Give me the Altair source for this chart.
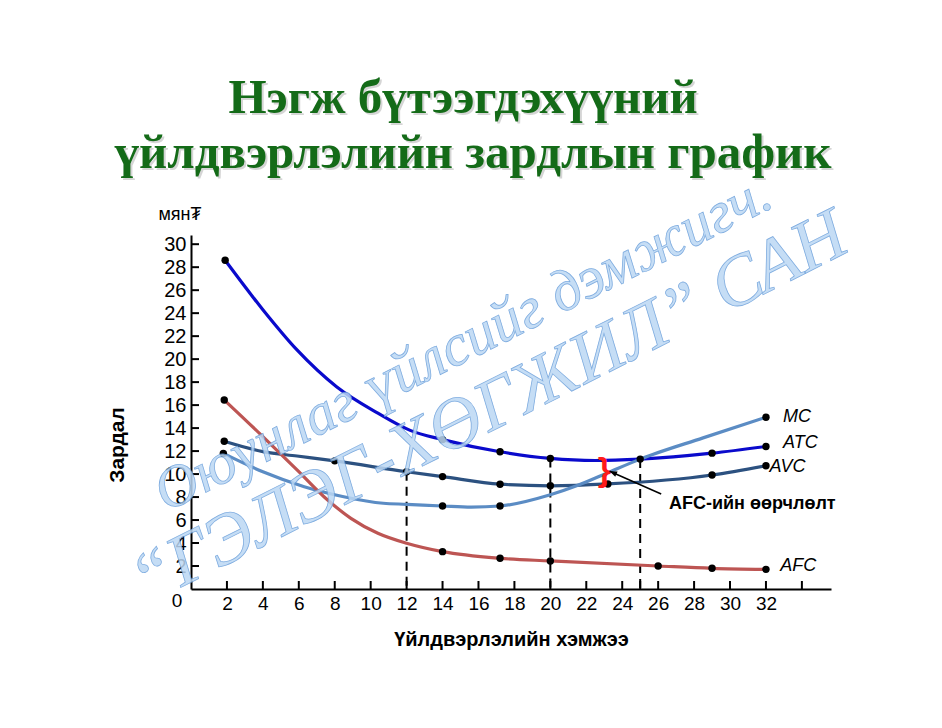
import altair as alt
import pandas as pd

# ---------------- data ----------------
title_lines = ["Нэгж бүтээгдэхүүний", "үйлдвэрлэлийн зардлын график"]
watermark_lines = ["Оюунлаг үйлсийг дэмжигч.", "“ГЭЛЭГ-ХӨГЖИЛ” САН"]
y_unit = "мян₮"
y_title = "Зардал"
x_title = "Үйлдвэрлэлийн хэмжээ"
afc_note = "AFC-ийн өөрчлөлт"

x_tick_labels = [2, 4, 6, 8, 10, 12, 14, 16, 18, 20, 22, 24, 26, 28, 30, 32]
x_tick_marks = [2, 4, 6, 8, 10, 12, 14, 16, 18, 20, 22, 24, 25, 26, 28, 30, 32, 34]
y_ticks = [2, 4, 6, 8, 10, 12, 14, 16, 18, 20, 22, 24, 26, 28, 30]

series_names = ["ATC", "AVC", "MC", "AFC"]
series_colors = ["#0a0acc", "#2c5180", "#5b8cc4", "#bd5553"]

atc_x = [1.9, 4.0, 5.9, 8.1, 10.4, 12.2, 14.0, 17.2, 20.0, 22.5, 25.0, 29.0, 32.0]
atc_y = [28.6, 24.3, 20.8, 17.6, 15.3, 13.8, 13.0, 11.94, 11.36, 11.18, 11.3, 11.82, 12.4]
atc_dot = [1, 0, 0, 0, 0, 0, 1, 1, 1, 0, 1, 1, 1]

avc_x = [1.85, 4.0, 5.9, 8.0, 12.0, 14.0, 17.2, 20.0, 23.2, 29.0, 32.0]
avc_y = [12.85, 11.95, 11.57, 11.15, 10.2, 9.78, 9.12, 8.98, 9.14, 9.92, 10.73]
avc_dot = [1, 0, 0, 1, 1, 1, 1, 1, 1, 1, 1]

mc_x = [1.8, 4.0, 6.3, 8.5, 10.7, 12.0, 14.0, 15.6, 17.2, 20.0, 21.5, 23.1, 25.0, 28.5, 32.0]
mc_y = [11.8, 10.2, 8.9, 8.03, 7.46, 7.37, 7.22, 7.12, 7.22, 8.2, 9.0, 10.05, 11.3, 13.15, 14.94]
mc_dot = [1, 0, 0, 0, 0, 0, 1, 0, 1, 0, 0, 0, 0, 0, 1]

afc_x = [1.85, 4.0, 5.9, 7.4, 8.9, 10.4, 12.0, 14.0, 17.2, 20.0, 26.0, 29.0, 32.0]
afc_y = [16.45, 13.26, 10.36, 8.03, 6.15, 4.85, 3.98, 3.25, 2.67, 2.44, 2.0, 1.8, 1.71]
afc_dot = [1, 0, 0, 0, 0, 0, 0, 1, 1, 1, 1, 1, 1]

label_names = ["MC", "ATC", "AVC", "AFC"]
label_x = [32.95, 32.95, 32.2, 32.8]
label_y = [14.97, 12.7, 10.6, 2.0]

dash_x = [12, 20, 25]
dash_top = [10.2, 11.36, 11.3]

bracket_x = [23.0]
bracket_y = [10.27]
arrow_tail_x = [26.17]
arrow_tail_y = [8.27]
arrow_tip_x = [23.3]
arrow_tip_y = [10.25]

# ---------------- tables ----------------
rows = []
for name, xs, ys, ds in [("ATC", atc_x, atc_y, atc_dot), ("AVC", avc_x, avc_y, avc_dot),
                         ("MC", mc_x, mc_y, mc_dot), ("AFC", afc_x, afc_y, afc_dot)]:
    for i, (a, b, d) in enumerate(zip(xs, ys, ds)):
        rows.append({"series": name, "x": a, "y": b, "dot": d, "order": i})
curves = pd.DataFrame(rows)
dots = curves[curves["dot"] == 1]

labels_df = pd.DataFrame({"name": label_names, "x": label_x, "y": label_y})
dash_df = pd.DataFrame({"x": dash_x, "top": dash_top})
xt_df = pd.DataFrame({"t": x_tick_marks})
yt_df = pd.DataFrame({"t": y_ticks})
bracket_df = pd.DataFrame({"x": bracket_x, "y": bracket_y, "t": ["}"]})
arrow_df = pd.DataFrame({"x": arrow_tail_x, "y": arrow_tail_y, "x2": arrow_tip_x, "y2": arrow_tip_y})
tip_df = pd.DataFrame({"x": arrow_tip_x, "y": arrow_tip_y})

W, H = 640, 354
xscale = alt.Scale(domain=[0, 35.62], nice=False, zero=False)
yscale = alt.Scale(domain=[0, 30.8], nice=False, zero=False)

SANS = "Liberation Sans"
SERIF = "Liberation Serif"

x_axis = alt.Axis(values=x_tick_labels, ticks=False, grid=False, domainColor="black",
                  domainWidth=2, labelFont=SANS, labelFontSize=19, labelColor="black",
                  labelPadding=5, labelFlush=False, labelOverlap=False, title=x_title,
                  titleFont=SANS, titleFontSize=20, titleFontWeight="bold",
                  titleColor="black", titlePadding=16)
y_axis = alt.Axis(values=y_ticks, ticks=False, grid=False, domainColor="black",
                  domainWidth=2, labelFont=SANS, labelFontSize=20, labelColor="black",
                  labelPadding=5, labelFlush=False, labelOverlap=False, title=None)

lines = alt.Chart(curves).mark_line(interpolate="monotone", strokeWidth=3.2).encode(
    x=alt.X("x:Q", scale=xscale, axis=x_axis),
    y=alt.Y("y:Q", scale=yscale, axis=y_axis),
    color=alt.Color("series:N", scale=alt.Scale(domain=series_names, range=series_colors), legend=None),
    order="order:Q",
)

dot_layer = alt.Chart(dots).mark_circle(size=55, color="black", opacity=1).encode(
    x=alt.X("x:Q", scale=xscale, axis=x_axis), y=alt.Y("y:Q", scale=yscale, axis=y_axis))

dash_layer = alt.Chart(dash_df).mark_rule(color="black", strokeWidth=2, strokeDash=[9, 6]).encode(
    x=alt.X("x:Q", scale=xscale, axis=x_axis), y=alt.Y("top:Q", scale=yscale, axis=y_axis),
    y2=alt.datum(0))

xticks = alt.Chart(xt_df).mark_rule(color="black", strokeWidth=2).encode(
    x=alt.X("t:Q", scale=xscale, axis=x_axis), y=alt.value(H), y2=alt.value(H - 8))
yticks = alt.Chart(yt_df).mark_rule(color="black", strokeWidth=2).encode(
    y=alt.Y("t:Q", scale=yscale, axis=y_axis), x=alt.value(0), x2=alt.value(8))

curve_labels = alt.Chart(labels_df).mark_text(
    font=SANS, fontSize=18, fontStyle="italic", align="left", baseline="middle", color="black"
).encode(x=alt.X("x:Q", scale=xscale, axis=x_axis), y=alt.Y("y:Q", scale=yscale, axis=y_axis),
         text="name:N")

bracket = alt.Chart(bracket_df).mark_text(
    font=SANS, fontSize=34, color="#ff1a1a", align="center", baseline="middle", fontWeight="bold"
).encode(x=alt.X("x:Q", scale=xscale, axis=x_axis), y=alt.Y("y:Q", scale=yscale, axis=y_axis),
         text="t:N")

arrow = alt.Chart(arrow_df).mark_rule(color="black", strokeWidth=1.5).encode(
    x=alt.X("x:Q", scale=xscale, axis=x_axis), y=alt.Y("y:Q", scale=yscale, axis=y_axis),
    x2="x2:Q", y2="y2:Q")
arrow_head = alt.Chart(tip_df).mark_point(
    shape="M0,0 L-0.4,1 L0.4,1 Z", size=220, filled=True, color="black", opacity=1, angle=293.5
).encode(x=alt.X("x:Q", scale=xscale, axis=x_axis), y=alt.Y("y:Q", scale=yscale, axis=y_axis))


def text_at(t, px, py, **kw):
    return alt.Chart(pd.DataFrame({"t": [t]})).mark_text(**kw).encode(
        x=alt.value(px), y=alt.value(py), text="t:N")


note = text_at(afc_note, 478, 269, font=SANS, fontSize=18, fontWeight="bold", align="left",
               baseline="middle", color="black")
unit = text_at(y_unit, -11, -20, font=SANS, fontSize=18, align="center", baseline="middle", color="black")
zero = text_at("0", -14, 366, font=SANS, fontSize=19, align="center", baseline="middle", color="black")
ytitle = text_at(y_title, -73, 210, font=SANS, fontSize=21, fontWeight="bold", align="center",
                 baseline="middle", angle=270, color="black")

title_kw = dict(font=SERIF, fontSize=49, fontWeight="bold", align="center", baseline="alphabetic")
t1s = text_at(title_lines[0], 274, -120, color="#8a8a8a", opacity=0.35, **title_kw)
t2s = text_at(title_lines[1], 284, -65, color="#8a8a8a", opacity=0.35, **title_kw)
t1 = text_at(title_lines[0], 272, -122, color="#146b18", **title_kw)
t2 = text_at(title_lines[1], 282, -67, color="#146b18", **title_kw)

wm_kw = dict(font=SERIF, fontStyle="italic", align="center", baseline="middle", angle=333.3,
             fill="#bcd8f4", stroke="#6a9fdb", strokeWidth=0.8, opacity=0.85)
wm1 = text_at(watermark_lines[0], 272, 108, fontSize=59, **wm_kw)
wm2 = text_at(watermark_lines[1], 298, 173, fontSize=72, **wm_kw)

chart = alt.layer(
    dash_layer, lines, dot_layer, xticks, yticks, curve_labels, bracket, arrow, arrow_head,
    note, unit, zero, ytitle, t1s, t2s, t1, t2, wm1, wm2
).properties(
    width=W, height=H,
    autosize=alt.AutoSizeParams(type="none"),
    padding={"left": 183, "top": 227, "right": 103, "bottom": 131},
    background="white",
).configure_view(stroke=None).configure_axis(labelOverlap=False)

chart.save("out.html", embed_options={"renderer": "svg", "actions": False})
